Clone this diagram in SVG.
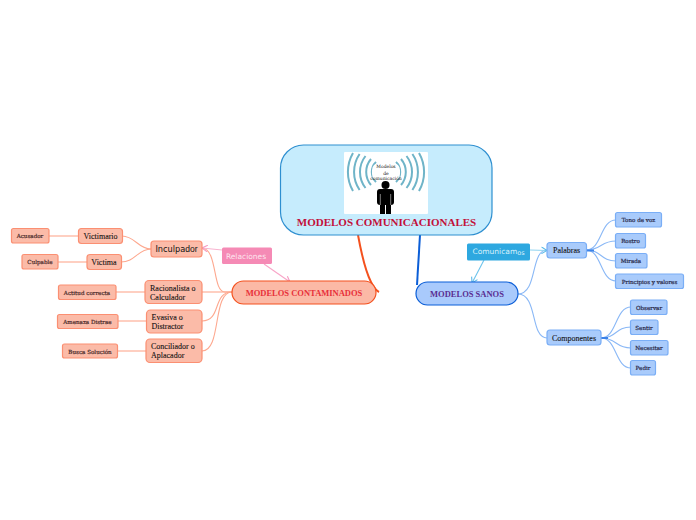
<svg xmlns="http://www.w3.org/2000/svg" width="696" height="520" viewBox="0 0 696 520">
<style>
text{text-anchor:middle;font-family:"DejaVu Serif",serif}
.o rect{fill:#fbbba8;stroke:#fb8f72;stroke-width:1.200}
.b rect{fill:#a9cbfb;stroke:#7aaef6;stroke-width:1.200}
.s{font-size:5.600px;fill:#4a2a2a;stroke:#4a2a2a;stroke-width:.2px}
.sb{font-size:5.600px;fill:#2a2a4a;stroke:#2a2a4a;stroke-width:.2px}
.m{font-size:8px;font-family:"Liberation Serif",serif;fill:#111;stroke:#111;stroke-width:.1px}
.c path{fill:none;stroke-width:1.100}
.co{stroke:#fda88f}.cb{stroke:#8ab8f6}
</style>
<defs>
<marker id="ap" markerWidth="7" markerHeight="7" refX="6" refY="3.500" orient="auto"><path d="M1 .5L6 3.500L1 6.500" fill="none" stroke="#f59ac0" stroke-width="1"/></marker>
<marker id="ab" markerWidth="7" markerHeight="7" refX="6" refY="3.500" orient="auto"><path d="M1 .5L6 3.500L1 6.500" fill="none" stroke="#5dbbe8" stroke-width="1"/></marker>
</defs>
<g id="connectors" class="c">
<path d="M358 235Q364 268 371 282Q375 290 379 292" stroke="#f4511e" style="stroke-width:2"/>
<path d="M420 235L417 285" stroke="#0b5ed7" style="stroke-width:2"/>
<path class="co" d="M232 292H225C212 292 218 249 202 248"/>
<path class="co" d="M232 292H202"/>
<path class="co" d="M232 292C212 292 222 321 202 321"/>
<path class="co" d="M232 292C212 292 222 351 202 351"/>
<path class="co" d="M151 249C138 249 135 236 122 236"/>
<path class="co" d="M151 249C138 249 135 262 121 262"/>
<path class="co" d="M78 236H49"/>
<path class="co" d="M87 262H58"/>
<path class="co" d="M145 292H116"/>
<path class="co" d="M146 321H118"/>
<path class="co" d="M146 351H117"/>
<path class="cb" d="M518 294C538 294 530 250 547 250"/>
<path class="cb" d="M518 294C538 294 530 338 547 338"/>
<path class="cb" d="M586 250C602 250 600 220 616 220"/>
<path class="cb" d="M586 250C602 250 600 241 616 241"/>
<path class="cb" d="M586 250C602 250 600 261 616 261"/>
<path class="cb" d="M586 250C602 250 600 281 616 281"/>
<path class="cb" d="M601 338C617 338 615 307 631 307"/>
<path class="cb" d="M601 338C617 338 615 327 631 327"/>
<path class="cb" d="M601 338C617 338 615 348 631 348"/>
<path class="cb" d="M601 338C617 338 615 368 631 368"/>
<path d="M586 250.500H594M601 338H608" stroke="#3b82e8" style="stroke-width:2"/>
<path d="M222 250L202 248" stroke="#f8b4d0" marker-end="url(#ap)"/>
<path d="M264 264L290 282" stroke="#f8a5c8" marker-end="url(#ap)"/>
<path d="M530 250L547 250.500" stroke="#8fd3f0" marker-end="url(#ab)"/>
<path d="M484 260L472 283" stroke="#6cc3ec" marker-end="url(#ab)"/>
</g>
<g id="central">
<rect x="280.500" y="145" width="211.500" height="90" rx="23" fill="#c6ecfd" stroke="#2e8fd0" stroke-width="1.200"/>
<rect x="344" y="152" width="84" height="62" rx="1" fill="#fff"/>
<g fill="none" stroke="#6fb4c8" stroke-width="2">
<path d="M376 162A14 14 0 0 0 376 182"/><path d="M371 159A20 20 0 0 0 371 185"/><path d="M365.500 156A26 26 0 0 0 365.500 188"/><path d="M359.600 154A32 32 0 0 0 359.600 190"/><path d="M353 153A38 38 0 0 0 353 191"/>
<path d="M396 162A14 14 0 0 1 396 182"/><path d="M401 159A20 20 0 0 1 401 185"/><path d="M406.500 156A26 26 0 0 1 406.500 188"/><path d="M412.400 154A32 32 0 0 1 412.400 190"/><path d="M419 153A38 38 0 0 1 419 191"/>
</g>
<rect x="372" y="163" width="28" height="18" rx="7" fill="#fff"/>
<rect x="377" y="189" width="17" height="16" rx="3" fill="#000"/>
<rect x="380" y="198" width="5" height="16" fill="#000"/><rect x="386" y="198" width="5" height="16" fill="#000"/>
<path d="M380.300 194V205M390.700 194V205" stroke="#fff" stroke-width=".5"/>
<circle cx="385.500" cy="185" r="4" fill="#000"/>
<g style="font-family:'Liberation Sans',sans-serif;font-size:4.500px;fill:#111"><text x="386" y="167.500">Modelos</text><text x="386" y="175">de</text><text x="386" y="180">comunicación</text></g>
<text x="386.500" y="226" style="font-size:11px;font-weight:bold;fill:#c2103a;font-family:'Liberation Serif',serif">MODELOS COMUNICACIONALES</text>
</g>
<g id="contaminados"><rect x="232" y="281" width="144" height="23" rx="11.500" fill="#fbb9a6" stroke="#f4511e" stroke-width="1.200"/><text x="304" y="296" style="font-size:8.500px;font-weight:bold;fill:#e8303a;font-family:'Liberation Serif',serif">MODELOS CONTAMINADOS</text></g>
<g id="sanos"><rect x="416" y="282" width="102" height="23" rx="11.500" fill="#a9cafc" stroke="#0b5ed7" stroke-width="1.200"/><text x="467" y="297" style="font-size:8.500px;font-weight:bold;fill:#5a2d91;font-family:'Liberation Serif',serif">MODELOS SANOS</text></g>
<g id="relaciones"><rect x="222" y="247.500" width="50" height="16.500" rx="1.500" fill="#f58ab5"/><text x="246" y="258.500" style="font-size:7.500px;fill:#fde4ee;font-family:'DejaVu Sans',sans-serif">Relaciones</text></g>
<g id="comunicamos"><rect x="467" y="243.500" width="63" height="17" rx="1.500" fill="#2ea8e0"/><text x="498.500" y="254" style="font-size:7.500px;fill:#d8f1fb;font-family:'DejaVu Sans',sans-serif">Comunicam<tspan dy=".6" style="font-size:6.500px">os</tspan></text></g>
<g class="o">
<g id="acusador"><rect x="11.500" y="228.500" width="37.500" height="14.500" rx="2"/><text class="s" x="30" y="238">Acusador</text></g>
<g id="victimario"><rect x="78.500" y="228.500" width="44" height="15" rx="3"/><text class="m" x="100.500" y="239">Victimario</text></g>
<g id="inculpador"><rect x="151" y="241" width="51" height="16" rx="3"/><text x="176.500" y="252" style="font-size:8.200px;font-family:'DejaVu Sans',sans-serif;fill:#111">Inculpa<tspan style="font-family:'Liberation Sans',sans-serif;font-size:8.500px">dor</tspan></text></g>
<g id="culpable"><rect x="22" y="254.500" width="36" height="14.500" rx="2"/><text class="s" x="40" y="264">Culpable</text></g>
<g id="victima"><rect x="87" y="254.500" width="34.500" height="15" rx="3"/><text class="m" x="104" y="265">Victima</text></g>
<g id="actitud"><rect x="58.500" y="285" width="57.500" height="14.500" rx="2"/><text class="s" x="87" y="294.500">Actitud correcta</text></g>
<g id="racionalista"><rect x="145" y="280.500" width="57" height="23" rx="4"/><text class="m" x="150" y="290.500" style="text-anchor:start">Racionalista o</text><text class="m" x="150" y="299.500" style="text-anchor:start">Calculador</text></g>
<g id="amenaza"><rect x="57.500" y="314.500" width="60.500" height="14" rx="2"/><text class="s" x="87.500" y="324">Amenaza Distrae</text></g>
<g id="evasiva"><rect x="146.500" y="310" width="55.500" height="23" rx="4"/><text class="m" x="151.500" y="320" style="text-anchor:start">Evasiva o</text><text class="m" x="151.500" y="328.500" style="text-anchor:start">Distractor</text></g>
<g id="busca"><rect x="62.500" y="344" width="55" height="14" rx="2"/><text class="s" x="90" y="353.500">Busca Solución</text></g>
<g id="conciliador"><rect x="146" y="339" width="56" height="23.500" rx="4"/><text class="m" x="151" y="349" style="text-anchor:start">Conciliador o</text><text class="m" x="151" y="358" style="text-anchor:start">Aplacador</text></g>
</g>
<g class="b">
<g id="palabras"><rect x="547" y="242.500" width="39.500" height="15.500" rx="3"/><text class="m" x="566.500" y="253">Palabras</text></g>
<g id="componentes"><rect x="547" y="330" width="54" height="15" rx="3"/><text class="m" x="574" y="340.500">Componentes</text></g>
<g id="tono"><rect x="615.500" y="212.500" width="46" height="14.500" rx="2"/><text class="sb" x="638.500" y="222">Tono de voz</text></g>
<g id="rostro"><rect x="615.500" y="233.500" width="30" height="14.500" rx="2"/><text class="sb" x="630.500" y="243">Rostro</text></g>
<g id="mirada"><rect x="615.500" y="253.500" width="31.500" height="14.500" rx="2"/><text class="sb" x="631" y="263">Mirada</text></g>
<g id="principios"><rect x="615.500" y="274" width="68" height="14.500" rx="2"/><text class="sb" x="649.500" y="283.500">Principios y valores</text></g>
<g id="observar"><rect x="630.500" y="300" width="36.500" height="14.500" rx="2"/><text class="sb" x="649" y="309.500">Observar</text></g>
<g id="sentir"><rect x="630.500" y="320" width="27.500" height="14.500" rx="2"/><text class="sb" x="644" y="329.500">Sentir</text></g>
<g id="necesitar"><rect x="630.500" y="340.500" width="37.500" height="14.500" rx="2"/><text class="sb" x="649" y="350">Necesitar</text></g>
<g id="pedir"><rect x="630.500" y="360.500" width="25" height="14.500" rx="2"/><text class="sb" x="643" y="370">Pedir</text></g>
</g>
</svg>
